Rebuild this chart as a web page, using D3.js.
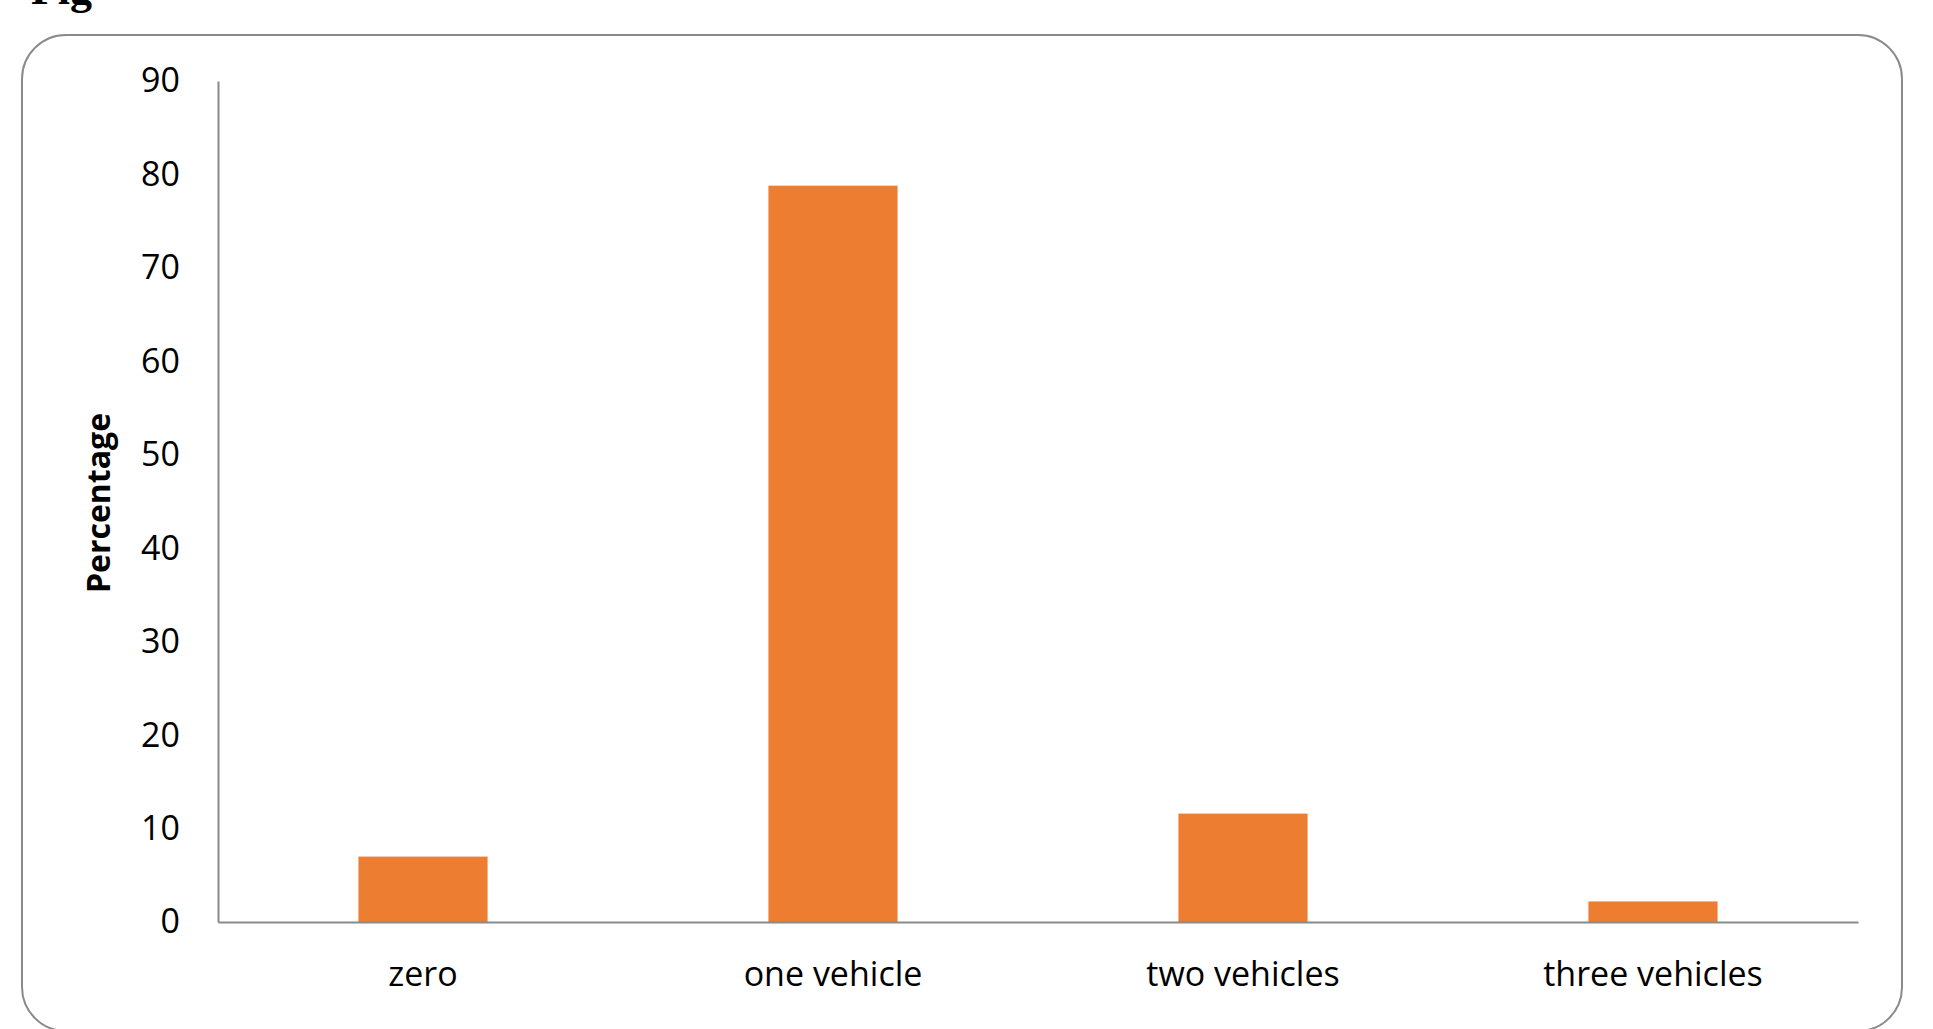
<!DOCTYPE html>
<html><head><meta charset="utf-8">
<script src="https://d3js.org/d3.v7.min.js"></script>
<style>body{margin:0;background:#fff;}svg{display:block;}</style>
</head><body>
<script>
const categories = ["zero","one vehicle","two vehicles","three vehicles"];
const values = [7.0, 78.8, 11.6, 2.2];
const yTicks = [0,10,20,30,40,50,60,70,80,90];

const W=1933,H=1029;
const svg=d3.select("body").append("svg").attr("width",W).attr("height",H);
svg.append("text").attr("x",92).attr("y",4).attr("text-anchor","end")
  .attr("font-family","Liberation Serif").attr("font-weight","bold").attr("font-size",44).text("Fig");
svg.append("rect").attr("x",22).attr("y",35).attr("width",1880).attr("height",996)
  .attr("rx",44).attr("fill","#fff").attr("stroke","#8a8a8a").attr("stroke-width",2);

const m={l:218,r:1858,t:81,b:922};
const x=d3.scaleBand().domain(categories).range([m.l,m.r]);
const y=d3.scaleLinear().domain([0,90]).range([m.b,m.t]);
const bw=x.step()*0.315;
const font="Open Sans, Lato, sans-serif";

svg.selectAll(".bar").data(values).join("rect")
  .attr("x",(d,i)=>x(categories[i])+x.bandwidth()/2-bw/2)
  .attr("y",d=>y(d)).attr("width",bw).attr("height",d=>y(0)-y(d)).attr("fill","#ED7D31");

const ya=svg.append("g").attr("transform",`translate(${m.l},0)`)
  .call(d3.axisLeft(y).tickValues(yTicks).tickSize(0).tickPadding(38));
ya.select(".domain").attr("stroke","#8a8a8a").attr("stroke-width",2);
ya.selectAll("text").attr("font-family",font).attr("font-size",34).attr("fill","#000");

const xa=svg.append("g").attr("transform",`translate(0,${m.b})`)
  .call(d3.axisBottom(x).tickSize(0).tickPadding(40));
xa.select(".domain").attr("stroke","#8a8a8a").attr("stroke-width",2);
xa.selectAll("text").attr("font-family",font).attr("font-size",34).attr("fill","#000");

svg.append("text").attr("transform","translate(110,503) rotate(-90)")
  .attr("text-anchor","middle").attr("font-family",font).attr("font-weight","bold")
  .attr("font-size",32).text("Percentage");
</script>
</body></html>
